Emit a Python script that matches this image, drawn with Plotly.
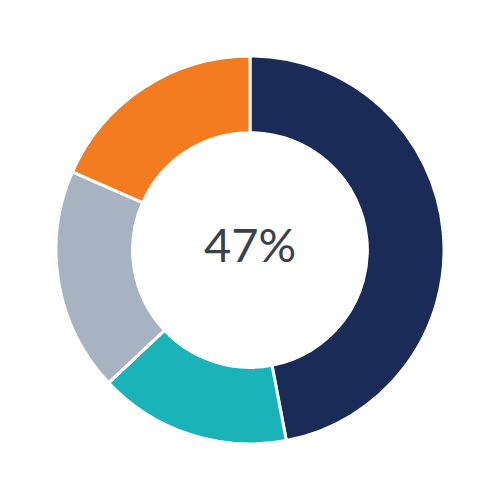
import plotly.graph_objects as go

labels = ["Navy", "Teal", "Gray", "Orange"]
values = [47, 16, 18.6, 18.4]
colors = ["#1b2b58", "#1ab3b7", "#a8b3c2", "#f37c20"]
center_text = "47%"

fig = go.Figure(go.Pie(
    labels=labels,
    values=values,
    hole=0.605,
    sort=False,
    direction="clockwise",
    rotation=0,
    marker=dict(colors=colors, line=dict(color="white", width=3)),
    textinfo="none",
    hoverinfo="label+value",
    showlegend=False,
))

fig.add_annotation(
    text=center_text, x=0.5, y=0.5, xref="paper", yref="paper",
    showarrow=False, yshift=6,
    font=dict(family="Lato", size=47, color="#3b414c"),
)

fig.update_layout(
    width=500, height=500,
    margin=dict(l=48, r=64, t=48, b=64),
    paper_bgcolor="white", plot_bgcolor="white",
)

fig.write_html("out.html")
